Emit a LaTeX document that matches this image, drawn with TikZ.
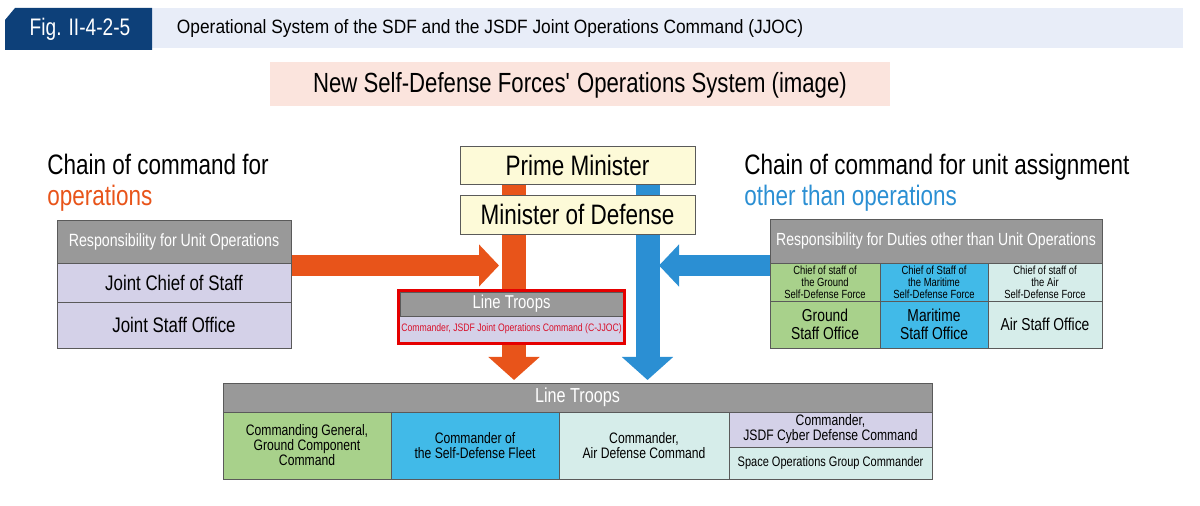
\documentclass[tikz,border=0pt]{standalone}
\usepackage{fontspec}
\setmainfont{Liberation Sans}[FakeStretch=0.8]
\newfontfamily\titlefont{Liberation Sans}[FakeStretch=0.9]
\usetikzlibrary{positioning,arrows.meta,fit,backgrounds}

\definecolor{figblue}{HTML}{0D4079}
\definecolor{barblue}{HTML}{E8EDF8}
\definecolor{subpink}{HTML}{FBE4DD}
\definecolor{opsorange}{HTML}{E8541A}
\definecolor{asgblue}{HTML}{2B8FD3}
\definecolor{hdrgray}{HTML}{999999}
\definecolor{lavender}{HTML}{D4D1E8}
\definecolor{pmyellow}{HTML}{FDFAD8}
\definecolor{gsdfgreen}{HTML}{A8D18B}
\definecolor{msdfblue}{HTML}{41BAE8}
\definecolor{asdfcyan}{HTML}{D6EDEA}
\definecolor{jjocred}{HTML}{D8102A}
\definecolor{lineclr}{HTML}{5A5A5A}

\newcommand{\fsz}[2]{\fontsize{#1}{#2}\selectfont}

\begin{document}
\begin{tikzpicture}[
            x=0.025cm, y=-0.025cm,
            cell/.style={draw=lineclr, line width=0.6pt, inner sep=1pt, outer sep=0pt, align=center, anchor=north west},
            hdr/.style={cell, fill=hdrgray, text=white},
            box/.style 2 args={minimum width=#1*0.025cm, minimum height=#2*0.025cm},
            label/.style={inner sep=0pt, anchor=base west, font=\fsz{20}{22}},
            varrow/.style={line width=0.6cm, -{Triangle[length=0.575cm, width=1.25cm]}},
            harrow/.style={line width=0.525cm, -{Triangle[length=0.5cm, width=1.025cm]}}
        ]
            \useasboundingbox (0,0) rectangle (1200,505);

            % title bar
            \fill[barblue] (152,8) rectangle (1183,48);
            \fill[figblue] (5,20) -- (15,8) -- (152,8) -- (152,50) -- (5,50) -- cycle;
            \node[text=white, font=\fsz{17}{19}] (fig) at (80,29) {Fig. II-4-2-5};
            \node[anchor=west, font=\titlefont\fsz{13.7}{15}] (title) at (172,29) {Operational System of the SDF and the JSDF Joint Operations Command (JJOC)};

            \fill[subpink] (270,62) rectangle (890,106);
            \node[font=\fsz{19.7}{21}] (sub) at (580,85) {New Self-Defense Forces\textquotesingle\ Operations System (image)};

            % chain headings
            \node[label] (chainL) at (47,174) {Chain of command for};
            \node[label, text=opsorange] (opsL) at (47,205) {operations};
            \node[label] (chainR) at (744,174) {Chain of command for unit assignment};
            \node[label, text=asgblue] (opsR) at (744,205) {other than operations};

            % ministers
            \node[cell, fill=pmyellow, box={235}{38}, font=\fsz{20}{22}] (pm) at (460,146) {Prime Minister};
            \node[cell, fill=pmyellow, box={235}{39}, font=\fsz{20}{22}] (mod) at (460,195) {Minister of Defense};

            % operations side
            \node[hdr, box={234}{43}, font=\fsz{12.6}{14}] (respL) at (57,220) {Responsibility for Unit Operations};
            \node[cell, fill=lavender, box={234}{39}, below=0pt of respL, font=\fsz{15}{17}] (jcs) {Joint Chief of Staff};
            \node[cell, fill=lavender, box={234}{46}, below=0pt of jcs, font=\fsz{15}{17}] (jso) {Joint Staff Office};

            % unit assignment side
            \node[hdr, box={332}{44}, font=\fsz{12.5}{14}] (respR) at (770,219) {Responsibility for Duties other than Unit Operations};
            \node[cell, fill=gsdfgreen, box={110}{38}, font=\fsz{8.4}{8.5}] (cgsdf) at (respR.south west) {Chief of staff of\\the Ground\\Self-Defense Force};
            \node[cell, fill=msdfblue, box={108}{38}, right=0pt of cgsdf, font=\fsz{8.4}{8.5}] (cmsdf) {Chief of Staff of\\the Maritime\\Self-Defense Force};
            \node[cell, fill=asdfcyan, box={114}{38}, right=0pt of cmsdf, font=\fsz{8.4}{8.5}] (casdf) {Chief of staff of\\the Air\\Self-Defense Force};
            \node[cell, fill=gsdfgreen, box={110}{47}, below=0pt of cgsdf, font=\fsz{12.3}{12.5}] (gso) {Ground\\Staff Office};
            \node[cell, fill=msdfblue, box={108}{47}, below=0pt of cmsdf, font=\fsz{12.3}{12.5}] (mso) {Maritime\\Staff Office};
            \node[cell, fill=asdfcyan, box={114}{47}, below=0pt of casdf, font=\fsz{12.3}{12.5}] (aso) {Air Staff Office};

            % line troops
            \node[hdr, box={709}{29}, font=\fsz{14.4}{16}] (ltr) at (223,383) {Line Troops};
            \node[cell, fill=gsdfgreen, box={168}{67}, font=\fsz{10.8}{10.7}] (gcc) at (ltr.south west) {Commanding General,\\Ground Component\\Command};
            \node[cell, fill=msdfblue, box={168}{67}, right=0pt of gcc, font=\fsz{10.8}{10.7}] (sdf) {Commander of\\the Self-Defense Fleet};
            \node[cell, fill=asdfcyan, box={170}{67}, right=0pt of sdf, font=\fsz{10.8}{10.7}] (adc) {Commander,\\Air Defense Command};
            \node[cell, fill=lavender, box={203}{35}, font=\fsz{10.8}{10.7}] (cyb) at (adc.north east) {Commander,\\JSDF Cyber Defense Command};
            \node[cell, fill=asdfcyan, box={203}{32}, below=0pt of cyb, font=\fsz{9.8}{11}] (spc) {Space Operations Group Commander};

            % C-JJOC
            \node[hdr, box={223}{24}, font=\fsz{13.2}{15}] (ltop) at (400,292) {Line Troops};
            \node[cell, fill=lavender, box={223}{26}, below=0pt of ltop, text=jjocred, font=\fsz{7.7}{9}] (cjjoc) {Commander, JSDF Joint Operations Command (C-JJOC)};
            \node[draw=red!90!black, line width=0.075cm, inner sep=0.0375cm, fit=(ltop)(cjjoc)] (jjocframe) {};

            % arrows
            \coordinate (oaxis) at (514,0);
            \coordinate (baxis) at (647.5,0);
            \coordinate (ohtip) at (499,265.5);
            \coordinate (bhtip) at (659,265.5);
            \begin{scope}[on background layer]
                \draw[varrow, opsorange] (pm.south -| oaxis) -- ([yshift=0.075cm]ltr.north -| oaxis);
                \draw[varrow, asgblue] (pm.south -| baxis) -- ([yshift=0.075cm]ltr.north -| baxis);
                \draw[harrow, opsorange] (jcs.north east |- ohtip) -- (ohtip);
                \draw[harrow, asgblue] (respR.south west |- bhtip) -- (bhtip);
            \end{scope}
        \end{tikzpicture}
\end{document}
